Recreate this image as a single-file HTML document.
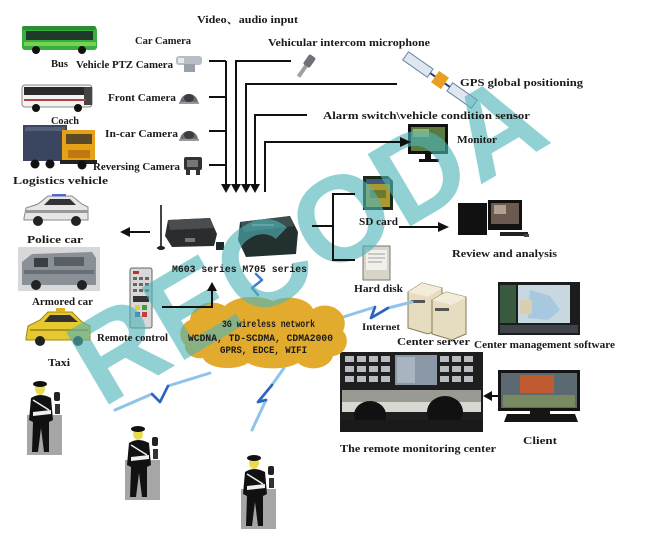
<!DOCTYPE html>
<html><head><meta charset="utf-8">
<style>
html,body{margin:0;padding:0;background:#fff;}
svg{display:block;}
.l{font-family:"Liberation Serif","Noto Serif CJK SC",serif;font-weight:bold;font-size:11px;fill:#1a1a1a;}
.c{font-family:"Liberation Mono","Noto Sans CJK SC",monospace;font-weight:bold;font-size:10px;fill:#1a1a1a;}
</style></head>
<body>
<svg width="650" height="536" viewBox="0 0 650 536" xmlns="http://www.w3.org/2000/svg">
<rect width="650" height="536" fill="#fff"/>

<!-- ===== Vehicles ===== -->
<g>
<rect x="22" y="27" width="75" height="23" rx="3" fill="#38b040"/>
<rect x="22" y="26" width="74" height="4" rx="2" fill="#2c8c34"/>
<rect x="26" y="31" width="67" height="9" fill="#1f3a2a"/>
<rect x="24" y="42" width="72" height="4" fill="#7ad050"/>
<circle cx="36" cy="50" r="4" fill="#111"/><circle cx="82" cy="50" r="4" fill="#111"/>
</g>
<g>
<rect x="22" y="85" width="70" height="22" rx="3" fill="#f2f2f2" stroke="#888" stroke-width="1"/>
<rect x="24" y="87" width="64" height="8" fill="#2a2a2a"/>
<rect x="84" y="87" width="8" height="18" fill="#444"/>
<rect x="24" y="99" width="62" height="2" fill="#b04040"/>
<circle cx="36" cy="108" r="4" fill="#111"/><circle cx="78" cy="108" r="4" fill="#111"/>
</g>
<g>
<rect x="23" y="125" width="44" height="36" fill="#3a4560"/>
<rect x="25" y="127" width="40" height="4" fill="#55607a"/>
<rect x="62" y="130" width="33" height="34" fill="#e8a018"/>
<rect x="66" y="134" width="26" height="10" fill="#5a4a28"/>
<rect x="68" y="150" width="22" height="8" fill="#c07810"/>
<rect x="60" y="160" width="37" height="4" fill="#222"/>
<circle cx="35" cy="164" r="4.5" fill="#111"/><circle cx="50" cy="164" r="4.5" fill="#111"/><circle cx="82" cy="165" r="4.5" fill="#111"/>
</g>
<g>
<path d="M24,218 L26,208 L38,204 L48,196 L72,196 L82,204 L88,207 L88,220 L24,220 Z" fill="#e6e6e6" stroke="#888" stroke-width="1"/>
<path d="M50,199 L70,199 L76,205 L44,205 Z" fill="#333"/>
<rect x="52" y="194" width="14" height="2.5" fill="#5566cc"/>
<rect x="26" y="210" width="62" height="3" fill="#9a9a9a"/>
<circle cx="38" cy="221" r="5" fill="#222"/><circle cx="76" cy="221" r="5" fill="#222"/>
</g>
<g>
<rect x="18" y="247" width="82" height="44" fill="#d8d8d8"/>
<path d="M22,285 L22,262 L32,254 L92,252 L96,258 L96,285 Z" fill="#8a9098"/>
<rect x="34" y="258" width="14" height="9" fill="#3a3e44"/>
<rect x="54" y="257" width="30" height="9" fill="#5a5f66"/>
<rect x="24" y="270" width="70" height="4" fill="#6a6f76"/>
<circle cx="36" cy="285" r="5" fill="#222"/><circle cx="82" cy="285" r="5" fill="#222"/>
</g>
<g>
<path d="M26,338 L28,326 L40,320 L48,312 L72,312 L82,322 L90,326 L90,340 L26,340 Z" fill="#e6c830" stroke="#a08810" stroke-width="1"/>
<path d="M50,315 L70,315 L78,322 L44,322 Z" fill="#333"/>
<rect x="56" y="308" width="9" height="4" fill="#e0b020"/>
<rect x="30" y="329" width="58" height="2" fill="#b09018"/>
<circle cx="40" cy="341" r="5" fill="#222"/><circle cx="78" cy="341" r="5" fill="#222"/>
</g>

<!-- ===== Camera icons ===== -->
<g>
<rect x="176" y="56" width="26" height="9" rx="3" fill="#b8bcc4"/>
<rect x="184" y="64" width="11" height="8" fill="#9aa0a8"/>
<rect x="178" y="58" width="6" height="5" fill="#e6e8ec"/>
</g>
<g>
<path d="M180,103 A9,9 0 0 1 198,103 Z" fill="#6a6e74"/>
<ellipse cx="189" cy="98" rx="5" ry="4" fill="#3a3d42"/>
<rect x="179" y="102" width="20" height="2" fill="#999"/>
</g>
<g>
<path d="M180,140 A9,9 0 0 1 198,140 Z" fill="#6a6e74"/>
<ellipse cx="189" cy="135" rx="5" ry="4" fill="#3a3d42"/>
<rect x="179" y="139" width="20" height="2" fill="#999"/>
</g>
<g>
<rect x="184" y="157" width="18" height="13" rx="2" fill="#333"/>
<rect x="187" y="160" width="11" height="7" fill="#777"/>
<rect x="186" y="170" width="4" height="5" fill="#333"/><rect x="196" y="170" width="4" height="5" fill="#333"/>
</g>

<g transform="translate(306,66) rotate(35)">
<rect x="-4" y="-12" width="8" height="12" rx="2" fill="#6e7278"/>
<rect x="-2" y="0" width="4" height="13" fill="#9aa0a6"/>
</g>

<g transform="translate(440,80) rotate(35)">
<rect x="-42" y="-5" width="30" height="10" fill="#dfe6f0" stroke="#6a7fa8" stroke-width="1"/>
<rect x="12" y="-5" width="30" height="10" fill="#dfe6f0" stroke="#6a7fa8" stroke-width="1"/>
<rect x="-12" y="-1" width="24" height="2" fill="#2a3a80"/>
<rect x="-6" y="-7" width="12" height="14" fill="#e8a020"/>
</g>

<g>
<rect x="408" y="124" width="40" height="30" fill="#111"/>
<rect x="411" y="127" width="34" height="24" fill="#5a7a40"/>
<rect x="413" y="129" width="16" height="8" fill="#a8b060"/>
<rect x="425" y="154" width="6" height="5" fill="#111"/>
<rect x="419" y="159" width="20" height="3" fill="#111"/>
</g>

<!-- ===== DVR devices ===== -->
<rect x="160" y="205" width="2" height="43" fill="#444"/>
<ellipse cx="161" cy="248" rx="4" ry="2" fill="#222"/>
<g>
<path d="M168,220 L210,218 L217,234 L214,246 L172,247 L165,236 Z" fill="#2a2c2e"/>
<path d="M168,220 L210,218 L214,228 L170,230 Z" fill="#4a4d50"/>
<rect x="185" y="238" width="10" height="4" fill="#777"/>
</g>
<rect x="216" y="242" width="8" height="8" fill="#1e2a2a"/>
<g>
<path d="M240,222 L290,216 L298,232 L296,254 L246,257 L238,240 Z" fill="#22302f"/>
<path d="M240,222 L290,216 L294,226 L244,232 Z" fill="#3c4f4e"/>
<rect x="252" y="224" width="22" height="2" fill="#7a8a88"/>
</g>

<g>
<rect x="130" y="268" width="22" height="60" rx="2" fill="#d8d8d8" stroke="#666" stroke-width="1"/>
<rect x="133" y="271" width="6" height="3" fill="#c03030"/>
<g fill="#666">
<rect x="133" y="277" width="4" height="3"/><rect x="139" y="277" width="4" height="3"/><rect x="145" y="277" width="4" height="3"/>
<rect x="133" y="283" width="4" height="3"/><rect x="139" y="283" width="4" height="3"/><rect x="145" y="283" width="4" height="3"/>
<rect x="133" y="289" width="4" height="3"/><rect x="139" y="289" width="4" height="3"/><rect x="145" y="289" width="4" height="3"/>
<rect x="133" y="296" width="16" height="6" fill="#333"/>
</g>
<rect x="135" y="305" width="5" height="5" fill="#e0d030"/><rect x="142" y="305" width="5" height="5" fill="#40a040"/>
<rect x="135" y="312" width="5" height="5" fill="#4060c0"/><rect x="142" y="312" width="5" height="5" fill="#c04040"/>
</g>

<g>
<path d="M363,176 L388,176 L393,181 L393,210 L363,210 Z" fill="#1e2a18"/>
<rect x="366" y="179" width="24" height="28" fill="#a89a30"/>
<rect x="366" y="179" width="24" height="5" fill="#3a5a80"/>
<rect x="370" y="190" width="16" height="8" fill="#6a7a30"/>
</g>
<g>
<rect x="363" y="246" width="27" height="34" fill="#d8d4c8" stroke="#777" stroke-width="1"/>
<rect x="366" y="250" width="21" height="20" fill="#f2f0ea"/>
<g stroke="#888" stroke-width="0.8"><line x1="368" y1="254" x2="385" y2="254"/><line x1="368" y1="258" x2="385" y2="258"/><line x1="368" y1="262" x2="382" y2="262"/></g>
</g>

<g>
<rect x="458" y="203" width="29" height="32" fill="#111"/>
<rect x="488" y="200" width="34" height="30" fill="#111"/>
<rect x="491" y="203" width="28" height="21" fill="#6a5a50"/>
<rect x="494" y="205" width="12" height="9" fill="#b0a090"/>
<rect x="500" y="232" width="28" height="4" fill="#222"/>
<rect x="524" y="234" width="5" height="3" fill="#444"/>
</g>

<g>
<path d="M408,292 L422,283 L442,288 L442,328 L428,334 L408,328 Z" fill="#e6dcc0" stroke="#8a7a58" stroke-width="1"/>
<path d="M408,292 L422,283 L442,288 L428,297 Z" fill="#f3ecd8"/>
<rect x="411" y="300" width="14" height="3" fill="#555"/>
<path d="M432,300 L446,292 L466,297 L466,334 L452,340 L432,334 Z" fill="#e6dcc0" stroke="#8a7a58" stroke-width="1"/>
<path d="M432,300 L446,292 L466,297 L452,305 Z" fill="#f3ecd8"/>
<rect x="435" y="308" width="14" height="3" fill="#555"/>
</g>

<g>
<rect x="498" y="282" width="82" height="53" fill="#1a1c1e"/>
<rect x="500" y="285" width="16" height="38" fill="#3a5a40"/>
<rect x="518" y="285" width="52" height="38" fill="#c8d8e0"/>
<path d="M530,290 L550,296 L560,310 L548,320 L528,318 Z" fill="#a8c8e0"/>
<rect x="520" y="300" width="12" height="14" fill="#d8d0b0"/>
<rect x="500" y="325" width="78" height="8" fill="#40444a"/>
</g>

<g>
<rect x="340" y="352" width="143" height="80" fill="#1e1e1e"/>
<g fill="#b8bcc0">
<rect x="345" y="356" width="9" height="6"/><rect x="357" y="356" width="9" height="6"/><rect x="369" y="356" width="9" height="6"/><rect x="381" y="356" width="9" height="6"/>
<rect x="345" y="366" width="9" height="6"/><rect x="357" y="366" width="9" height="6"/><rect x="369" y="366" width="9" height="6"/><rect x="381" y="366" width="9" height="6"/>
<rect x="345" y="376" width="9" height="6"/><rect x="357" y="376" width="9" height="6"/><rect x="369" y="376" width="9" height="6"/><rect x="381" y="376" width="9" height="6"/>
<rect x="440" y="356" width="9" height="6"/><rect x="452" y="356" width="9" height="6"/><rect x="464" y="356" width="9" height="6"/>
<rect x="440" y="366" width="9" height="6"/><rect x="452" y="366" width="9" height="6"/><rect x="464" y="366" width="9" height="6"/>
<rect x="440" y="376" width="9" height="6"/><rect x="452" y="376" width="9" height="6"/><rect x="464" y="376" width="9" height="6"/>
</g>
<rect x="395" y="355" width="42" height="30" fill="#8a98a8"/>
<rect x="397" y="357" width="18" height="26" fill="#a8b4c0"/>
<rect x="342" y="390" width="139" height="12" fill="#9a9a94"/>
<rect x="342" y="402" width="139" height="10" fill="#d8d8d2"/>
<ellipse cx="370" cy="415" rx="16" ry="14" fill="#111"/>
<ellipse cx="445" cy="412" rx="18" ry="16" fill="#111"/>
<rect x="340" y="420" width="143" height="12" fill="#1a1a1a"/>
</g>

<g>
<rect x="498" y="370" width="82" height="41" fill="#151515"/>
<rect x="501" y="373" width="76" height="35" fill="#5a6a70"/>
<rect x="520" y="375" width="34" height="18" fill="#c05a30"/>
<rect x="503" y="395" width="72" height="12" fill="#7a8a60"/>
<rect x="530" y="411" width="20" height="4" fill="#151515"/>
<path d="M507,414 L575,414 L578,422 L504,422 Z" fill="#151515"/>
</g>

<defs>
<g id="cop">
<rect x="0" y="35" width="35" height="40" fill="#a6a6a6"/>
<path d="M4,18 Q13,12 24,18 L26,40 L22,42 L22,72 L17,72 L14,48 L11,72 L5,72 L6,42 L2,40 Z" fill="#111"/>
<ellipse cx="13" cy="9" rx="5" ry="6" fill="#e8dc50"/>
<ellipse cx="13" cy="4" rx="7" ry="3" fill="#111"/>
<path d="M6,32 L24,30 L24,34 L6,36 Z" fill="#f0f0f0"/>
<path d="M6,20 L22,30" stroke="#eee" stroke-width="1.5"/>
<rect x="27" y="12" width="6" height="9" rx="2" fill="#222"/>
<rect x="28" y="24" width="5" height="10" fill="#333"/>
</g>
</defs>
<use href="#cop" x="27" y="380"/>
<use href="#cop" x="125" y="425"/>
<use href="#cop" x="241" y="454"/>

<g fill="none" stroke-linecap="round" stroke-linejoin="round">
<polyline points="115,410 152,394 160,402 168,386 210,373" stroke="#8fc4ea" stroke-width="3"/>
<polyline points="152,394 160,402 168,386" stroke="#3060c0" stroke-width="2.5"/>
<polyline points="252,430 266,400 258,402 272,385 284,368" stroke="#8fc4ea" stroke-width="3"/>
<polyline points="266,400 258,402 272,385" stroke="#3060c0" stroke-width="2.5"/>
<polyline points="340,318 375,307 371,318 388,308 412,302" stroke="#8fc4ea" stroke-width="3"/>
<polyline points="375,307 371,318 388,308" stroke="#3060c0" stroke-width="2.5"/>
<polyline points="256,274 262,280 252,288 258,295" stroke="#4080d0" stroke-width="2.5"/>
</g>

<path d="M185,345 a15,15 0 0 1 5,-25 a22,18 0 0 1 35,-14 a30,15 0 0 1 48,-5 a25,15 0 0 1 40,8 a20,18 0 0 1 30,22 a15,15 0 0 1 -10,25 a20,15 0 0 1 -35,7 a30,12 0 0 1 -50,0 a25,12 0 0 1 -45,-5 a15,12 0 0 1 -18,-13 z" fill="#e3ab2e"/>

<!-- Watermark -->
<text x="328" y="275" transform="rotate(-30.6 328 275)" text-anchor="middle" font-family="Liberation Sans, sans-serif" font-weight="bold" font-size="122" textLength="525" lengthAdjust="spacingAndGlyphs" fill="#4fb4b8" fill-opacity="0.62">RECODA</text>

<!-- ===== Connector lines ===== -->
<g stroke="#111" stroke-width="2" fill="none">
<line x1="209" y1="61" x2="226" y2="61"/>
<line x1="209" y1="97" x2="226" y2="97"/>
<line x1="209" y1="131" x2="226" y2="131"/>
<line x1="209" y1="165" x2="226" y2="165"/>
<line x1="226" y1="61" x2="226" y2="184"/>
<polyline points="291,61 236,61 236,184"/>
<polyline points="397,84 246,84 246,184"/>
<polyline points="307,115 255,115 255,184"/>
<polyline points="265,192 265,142 402,142"/>
<line x1="128" y1="232" x2="150" y2="232"/>
<polyline points="162,307 212,307 212,290"/>
<line x1="312" y1="226" x2="333" y2="226"/>
<polyline points="355,194 333,194 333,260 355,260"/>
<line x1="399" y1="227" x2="440" y2="227"/>
<line x1="489" y1="396" x2="498" y2="396"/>
</g>
<g fill="#111">
<polygon points="221,184 231,184 226,193"/>
<polygon points="231,184 241,184 236,193"/>
<polygon points="241,184 251,184 246,193"/>
<polygon points="250,184 260,184 255,193"/>
<polygon points="400,137 411,142 400,147"/>
<polygon points="130,227 120,232 130,237"/>
<polygon points="207,291 212,282 217,291"/>
<polygon points="438,222 449,227 438,232"/>
<polygon points="492,391 483,396 492,401"/>
</g>

<!-- ===== Labels ===== -->
<text class="l" x="197" y="23" textLength="101" lengthAdjust="spacingAndGlyphs">Video、audio input</text>
<text class="l" x="135" y="44" textLength="56" lengthAdjust="spacingAndGlyphs">Car Camera</text>
<text class="l" x="268" y="46" textLength="162" lengthAdjust="spacingAndGlyphs">Vehicular intercom microphone</text>
<text class="l" x="51" y="67" textLength="17" lengthAdjust="spacingAndGlyphs">Bus</text>
<text class="l" x="76" y="68" textLength="97" lengthAdjust="spacingAndGlyphs">Vehicle PTZ Camera</text>
<text class="l" x="108" y="101" textLength="68" lengthAdjust="spacingAndGlyphs">Front Camera</text>
<text class="l" x="51" y="124" textLength="28" lengthAdjust="spacingAndGlyphs">Coach</text>
<text class="l" x="105" y="137" textLength="73" lengthAdjust="spacingAndGlyphs">In-car Camera</text>
<text class="l" x="93" y="170" textLength="87" lengthAdjust="spacingAndGlyphs">Reversing Camera</text>
<text class="l" x="13" y="184" textLength="95" lengthAdjust="spacingAndGlyphs">Logistics vehicle</text>
<text class="l" x="460" y="86" textLength="123" lengthAdjust="spacingAndGlyphs">GPS global positioning</text>
<text class="l" x="323" y="119" textLength="207" lengthAdjust="spacingAndGlyphs">Alarm switch\vehicle condition sensor</text>
<text class="l" x="457" y="143" textLength="40" lengthAdjust="spacingAndGlyphs">Monitor</text>
<text class="l" x="27" y="243" textLength="56" lengthAdjust="spacingAndGlyphs">Police car</text>
<text class="l" x="32" y="305" textLength="61" lengthAdjust="spacingAndGlyphs">Armored car</text>
<text class="l" x="48" y="366" textLength="22" lengthAdjust="spacingAndGlyphs">Taxi</text>
<text class="l" x="97" y="341" textLength="71" lengthAdjust="spacingAndGlyphs">Remote control</text>
<text class="c" x="172" y="272" textLength="135" lengthAdjust="spacingAndGlyphs">M603 series  M705 series</text>
<text class="l" x="359" y="225" textLength="39" lengthAdjust="spacingAndGlyphs">SD card</text>
<text class="l" x="452" y="257" textLength="105" lengthAdjust="spacingAndGlyphs">Review and analysis</text>
<text class="l" x="354" y="292" textLength="49" lengthAdjust="spacingAndGlyphs">Hard disk</text>
<text class="l" x="362" y="330" textLength="38" lengthAdjust="spacingAndGlyphs" style="font-size:9px">Internet</text>
<text class="l" x="397" y="345" textLength="73" lengthAdjust="spacingAndGlyphs">Center server</text>
<text class="l" x="474" y="348" textLength="141" lengthAdjust="spacingAndGlyphs">Center management software</text>
<text class="l" x="340" y="452" textLength="156" lengthAdjust="spacingAndGlyphs">The remote monitoring center</text>
<text class="l" x="523" y="444" textLength="34" lengthAdjust="spacingAndGlyphs">Client</text>
<text class="c" x="222" y="327" textLength="93" lengthAdjust="spacingAndGlyphs">3G wireless network</text>
<text class="c" x="188" y="341" textLength="145" lengthAdjust="spacingAndGlyphs">WCDNA, TD-SCDMA, CDMA2000</text>
<text class="c" x="220" y="353" textLength="87" lengthAdjust="spacingAndGlyphs">GPRS, EDCE, WIFI</text>
</svg>
</body></html>
